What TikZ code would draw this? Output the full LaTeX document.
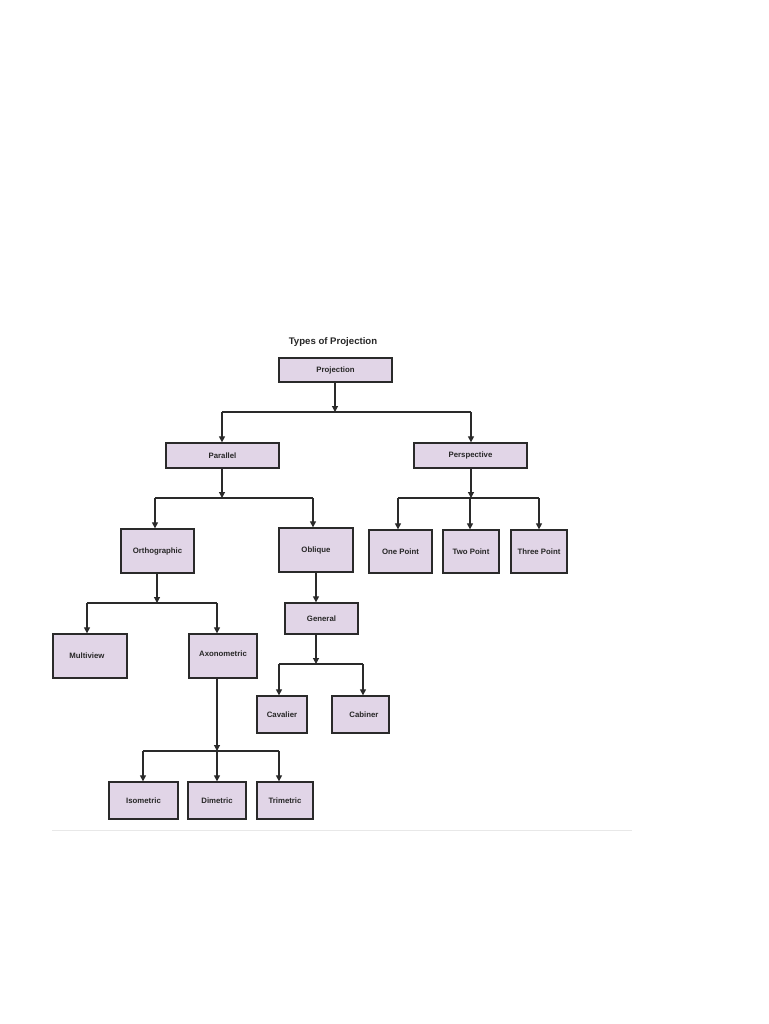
\documentclass[tikz,border=0pt]{standalone}
\usepackage{fontspec}
\setmainfont{Liberation Sans}
\usetikzlibrary{arrows.meta}
\definecolor{boxfill}{HTML}{E1D5E7}
\definecolor{boxline}{HTML}{2A2A2A}
\definecolor{sepline}{HTML}{E8E8E8}
\begin{document}
\begin{tikzpicture}[x=1pt,y=-1pt,
  box/.style={draw=boxline,line width=1.3pt,fill=boxfill,inner sep=0pt,
    font=\fontsize{7.8}{9}\selectfont\bfseries,text=black!85},
  link/.style={draw=boxline,line width=1.2pt},
  arr/.style={link,-{Triangle[length=6pt,width=6pt]}}]
\useasboundingbox (0,0) rectangle (768,1024);
\fill[white] (0,0) rectangle (768,1024);
\node[font=\fontsize{9.6}{11}\selectfont\bfseries,text=black!85] (title) at (333,342) {Types of Projection};
% level 0-1
\node[box,minimum width=113pt,minimum height=24pt] (proj) at (335.5,370) {Projection};
\node[box,minimum width=113pt,minimum height=25pt] (par) at (222.5,455.5) {Parallel};
\node[box,minimum width=113pt,minimum height=25pt] (persp) at (470.5,455.5) {Perspective};
% level 2
\node[box,minimum width=73pt,minimum height=44pt] (ortho) at (157.5,551) {Orthographic};
\node[box,minimum width=74pt,minimum height=44pt] (obl) at (316,550) {Oblique};
\node[box,minimum width=63pt,minimum height=43pt] (onep) at (400.5,551.5) {One Point};
\node[box,minimum width=56pt,minimum height=43pt] (twop) at (471,551.5) {Two Point};
\node[box,minimum width=56pt,minimum height=43pt] (threep) at (539,551.5) {Three Point};
% level 3
\node[box,minimum width=74pt,minimum height=44pt] (multi) at (90,656) {\hspace*{-6pt}Multiview};
\node[box,minimum width=68pt,minimum height=44pt,text depth=5pt] (axo) at (223,656) {Axonometric};
\node[box,minimum width=73pt,minimum height=31pt] (gen) at (321.5,618.5) {General};
% level 4
\node[box,minimum width=50pt,minimum height=37pt] (cav) at (282,714.5) {Cavalier};
\node[box,minimum width=57pt,minimum height=37pt] (cab) at (360.5,714.5) {\hspace*{7pt}Cabiner};
\node[box,minimum width=69pt,minimum height=37pt] (iso) at (143.5,800.5) {Isometric};
\node[box,minimum width=58pt,minimum height=37pt] (dim) at (217,800.5) {Dimetric};
\node[box,minimum width=56pt,minimum height=37pt] (tri) at (285,800.5) {Trimetric};
% junctions
\coordinate (j0) at (335,412); \coordinate (j0l) at (222,412); \coordinate (j0r) at (471,412);
\coordinate (j1) at (222,498); \coordinate (j1l) at (155,498); \coordinate (j1r) at (313,498);
\coordinate (j2) at (471,498); \coordinate (j2l) at (398,498); \coordinate (j2m) at (470,498); \coordinate (j2r) at (539,498);
\coordinate (j3) at (157,603); \coordinate (j3l) at (87,603); \coordinate (j3r) at (217,603);
\coordinate (j4) at (316,664); \coordinate (j4l) at (279,664); \coordinate (j4r) at (363,664);
\coordinate (j5) at (217,751); \coordinate (j5l) at (143,751); \coordinate (j5m) at (217,751); \coordinate (j5r) at (279,751);
\coordinate (jo) at (316,572);
% connectors
\draw[link] (j0l) -- (j0r);
\draw[arr] (j0 |- proj.south) -- (j0);
\draw[arr] (j0l) -- (j0l |- par.north);
\draw[arr] (j0r) -- (j0r |- persp.north);
\draw[link] (j1l) -- (j1r);
\draw[arr] (j1 |- par.south) -- (j1);
\draw[arr] (j1l) -- (j1l |- ortho.north);
\draw[arr] (j1r) -- (j1r |- obl.north);
\draw[link] (j2l) -- (j2r);
\draw[arr] (j2 |- persp.south) -- (j2);
\draw[arr] (j2l) -- (j2l |- onep.north);
\draw[arr] (j2m) -- (j2m |- twop.north);
\draw[arr] (j2r) -- (j2r |- threep.north);
\draw[link] (j3l) -- (j3r);
\draw[arr] (j3 |- ortho.south) -- (j3);
\draw[arr] (j3l) -- (j3l |- multi.north);
\draw[arr] (j3r) -- (j3r |- axo.north);
\draw[arr] (jo |- obl.south) -- (jo |- gen.north);
\draw[link] (j4l) -- (j4r);
\draw[arr] (j4 |- gen.south) -- (j4);
\draw[arr] (j4l) -- (j4l |- cav.north);
\draw[arr] (j4r) -- (j4r |- cab.north);
\draw[link] (j5l) -- (j5r);
\draw[arr] (j5 |- axo.south) -- (j5);
\draw[arr] (j5l) -- (j5l |- iso.north);
\draw[arr] (j5m) -- (j5m |- dim.north);
\draw[arr] (j5r) -- (j5r |- tri.north);
% separator
\draw[sepline,line width=1pt] (52,830) -- (632,830);
\end{tikzpicture}
\end{document}
